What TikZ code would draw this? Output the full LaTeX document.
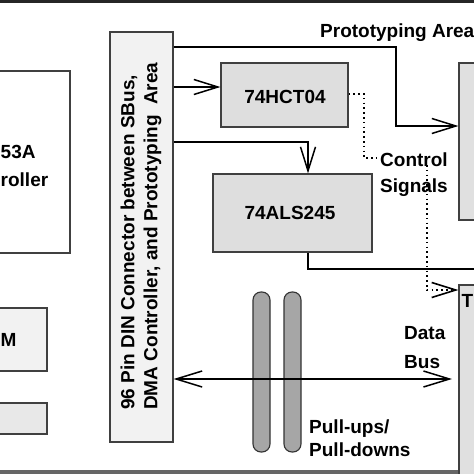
\documentclass[tikz,border=0pt]{standalone}
\usepackage{fontspec}
\setmainfont{Liberation Sans}
\usetikzlibrary{arrows.meta}
\begin{document}
\begin{tikzpicture}[x=1pt,y=-1pt,
  lbl/.style={font=\fontsize{19}{23}\selectfont\bfseries, inner sep=0pt},
  box/.style={draw=black!75, line width=1.2pt, inner sep=0pt},
  wire/.style={line width=1.5pt},
  tip/.style={-{Straight Barb[length=24pt,width=15pt]}},
  dtip/.style={{Straight Barb[length=26pt,width=16pt]}-{Straight Barb[length=26pt,width=16pt]}},
  dotline/.style={line width=1.6pt, dash pattern=on 1.6pt off 3.2pt},
  capsule/.style={draw=black!80, line width=1.1pt, fill=black!35, rounded corners=8pt, minimum width=17pt, minimum height=160pt, inner sep=0pt}
]
\useasboundingbox (0,0) rectangle (474,474);
\clip (0,0) rectangle (474,474);
\fill[black!85] (0,0) rectangle (474,2.6);
\fill[black!60] (0,470) rectangle (474,474);

% boxes
\node[box, fill=white, minimum width=80pt, minimum height=182pt] (dma) at (30,162) {};
\node[lbl, anchor=west] (dmat1) at (0.5,152) {53A};
\node[lbl, anchor=west] (dmat2) at (0.5,180) {roller};
\node[box, fill=black!5, minimum width=63pt, minimum height=410pt] (conn) at (141.5,237) {};
\node[lbl, rotate=90, anchor=west, align=left] (connt) at (141,410) {96 Pin DIN Connector between SBus,\\DMA Controller, and Prototyping\ \ Area};
\node[box, fill=black!13, minimum width=127pt, minimum height=64pt] (hct) at (284.5,95) {};
\node[lbl] (hctt) at (285,97) {74HCT04};
\node[box, fill=black!13, minimum width=159pt, minimum height=78pt] (als) at (292.5,213) {};
\node[lbl] (alst) at (290,213) {74ALS245};
\node[box, fill=black!12, minimum width=31pt, minimum height=157pt] (rtop) at (474.5,141.5) {};
\node[box, fill=black!12, minimum width=31pt, minimum height=195pt] (rbot) at (474.5,382.5) {};
\node[lbl, anchor=west] (rbott) at (461.5,301) {T};
\node[box, fill=black!5, minimum width=57pt, minimum height=63pt] (mbox) at (18.5,339.5) {};
\node[lbl, anchor=west] (mboxt) at (0.5,340) {M};
\node[box, fill=black!9, minimum width=57pt, minimum height=31pt] (sbox) at (18.5,418.5) {};

% labels
\node[lbl, anchor=west] (proto) at (320,33) {Prototyping Area};
\node[lbl, anchor=west] (ctrl) at (380,160) {Control};
\node[lbl, anchor=west] (sig) at (380,188) {Signals};
\node[lbl, anchor=west] (data) at (404,333) {Data};
\node[lbl, anchor=west] (bus) at (404,362) {Bus};
\node[lbl, anchor=west] (pu) at (309,429) {Pull-ups/};
\node[lbl, anchor=west] (pd) at (309,450) {Pull-downs};

% pull-ups
\node[capsule] (pu1) at (261.5,372) {};
\node[capsule] (pu2) at (292.5,372) {};

% coordinates
\coordinate (b1) at (396,47);
\coordinate (b2) at (396,126);
\coordinate (d1) at (364,94);
\coordinate (d2) at (364,158);
\coordinate (c1) at (427,165);
\coordinate (c2) at (427,290);
\coordinate (busend) at (452,379);
\coordinate (alsout) at (308,269);
\coordinate (edge) at (480,269);

% connectors
\draw[wire, tip] (conn.east |- b1) -- (b1) -- (b2) -- (rtop.west |- b2);
\draw[wire, tip] (conn.east |- 0,87) -- (hct.west |- 0,87);
\draw[wire, tip] (conn.east |- 0,142) -| (als.north -| alsout);
\draw[wire] (als.south -| alsout) -- (alsout) -- (edge);
\draw[dotline] (hct.east |- d1) -- (d1) -- (d2) -- (ctrl.west |- d2);
\draw[dotline, tip] (c1) -- (c2) -- (rbot.west |- c2);
\draw[wire, dtip] (conn.east |- busend) -- (busend);
\end{tikzpicture}
\end{document}
